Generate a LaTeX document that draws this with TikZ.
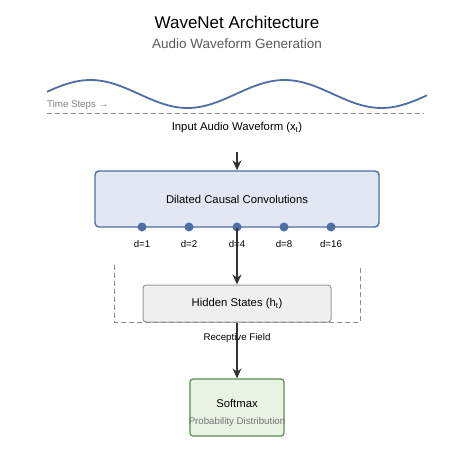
\documentclass[tikz,border=0pt]{standalone}
\usepackage{fontspec}
\setmainfont{Liberation Sans}
\usetikzlibrary{arrows.meta, positioning, shapes, calc}
\definecolor{waveblue}{HTML}{4E6EA6}
\definecolor{convfill}{HTML}{E1E8F3}
\definecolor{hidfill}{HTML}{EFEFEF}
\definecolor{hiddraw}{HTML}{999999}
\definecolor{softfill}{HTML}{E9F3E3}
\definecolor{softdraw}{HTML}{5B8C55}
\definecolor{arrowgray}{HTML}{333333}

\begin{document}
\begin{tikzpicture}[
    x=1pt, y=-1pt,
    title/.style={font=\fontsize{17}{20}\selectfont, text=black},
    subtitle/.style={font=\fontsize{13.5}{16}\selectfont, text=black!65},
    small/.style={font=\fontsize{9.7}{11}\selectfont},
    label/.style={font=\fontsize{11.3}{13}\selectfont},
    conv/.style={rectangle, rounded corners=4pt, draw=waveblue, line width=1.4pt, fill=convfill, minimum width=284pt, minimum height=56pt},
    hidden/.style={rectangle, rounded corners=3pt, draw=hiddraw, line width=1pt, fill=hidfill, minimum width=188pt, minimum height=37pt},
    soft/.style={rectangle, rounded corners=3pt, draw=softdraw, line width=1.2pt, fill=softfill, minimum width=94pt, minimum height=57pt},
    dot/.style={circle, fill=waveblue, inner sep=0pt, minimum size=9pt},
    wave/.style={waveblue, line width=1.8pt},
    guide/.style={black!45, dash pattern=on 5pt off 3pt, line width=1pt},
    edge/.style={->, line width=1.3pt, arrowgray, >={Stealth[length=10pt,width=9pt]}}
]
\useasboundingbox (0,0) rectangle (474,474);

% Titles
\node[title] (head) at (237,22) {WaveNet Architecture};
\node[subtitle, below=3pt of head] (sub) {Audio Waveform Generation};

% Waveform
\draw[wave] plot[domain=47:427, samples=120] (\x, {94-14*sin(1.8557*(\x-42))});
\draw[guide] (47,113.5) -- (424,113.5);
\node[small, text=black!50, anchor=west, inner sep=0pt] (time) at (47,105) {Time Steps →};
\node[label] (input) at (237,128) {Input Audio Waveform (x\textsubscript{t})};

% Nodes
\node[conv] (dcc) at (237,199) {};
\node[label] at (dcc) {Dilated Causal Convolutions};
\foreach \i/\d/\px in {1/1/142, 2/2/189, 3/4/237, 4/8/284, 5/16/331} {
    \node[dot] (dot\i) at (\px,227) {};
    \node[small, below=5pt of dot\i] (dl\i) {d=\d};
}
\node[hidden] (hid) at (237,303.5) {};
\node[label] at (hid) {Hidden States (h\textsubscript{t})};
\draw[guide] (114,265) -- (114,322) -- (360,322) -- (360,265);
\node[small] (rf) at (237,338) {Receptive Field};
\node[soft] (sm) at (237,407.5) {};
\node[label] (smt) at (237,403) {Softmax};
\node[small, text=black!55] (prob) at (237,422) {Probability Distribution};

% Edges
\draw[edge, shorten <=15pt] (input) -- (dcc);
\draw[edge] (dcc.south) -- (hid.north);
\draw[edge] (hid.south) -- (sm.north);

\end{tikzpicture}
\end{document}
